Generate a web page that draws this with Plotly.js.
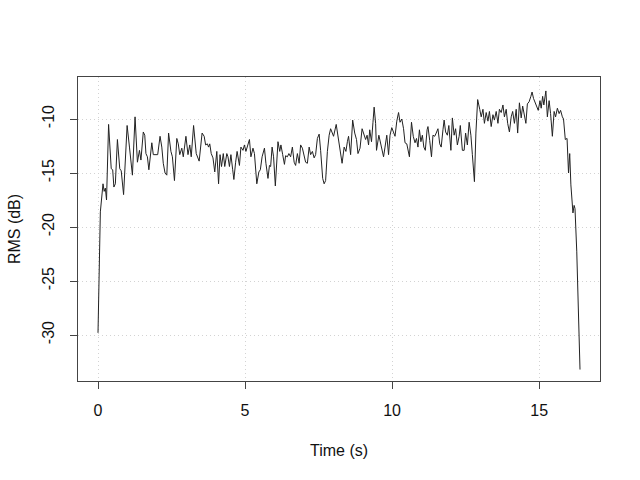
<!DOCTYPE html>
<html>
<head>
<meta charset="utf-8">
<script src="https://cdn.plot.ly/plotly-3.0.1.min.js"></script>
<style>html,body{margin:0;padding:0;background:#fff}#plot{width:640px;height:480px}</style>
</head>
<body>
<div id="plot"></div>
<script>
var timeS = [0.00,0.08,0.17,0.21,0.25,0.29,0.36,0.45,0.50,0.54,0.59,0.66,0.74,0.79,0.87,0.99,1.07,1.12,1.17,1.26,1.34,1.41,1.46,1.54,1.59,1.63,1.68,1.73,1.83,1.88,1.93,2.03,2.11,2.17,2.22,2.28,2.34,2.40,2.48,2.53,2.60,2.68,2.73,2.78,2.85,2.90,2.99,3.06,3.12,3.17,3.25,3.34,3.44,3.54,3.61,3.66,3.72,3.76,3.80,3.85,3.91,3.97,4.04,4.10,4.15,4.20,4.26,4.31,4.38,4.42,4.47,4.52,4.58,4.62,4.68,4.73,4.81,4.86,4.93,4.98,5.03,5.09,5.15,5.20,5.27,5.32,5.40,5.47,5.52,5.58,5.66,5.71,5.78,5.83,5.87,5.92,5.97,6.03,6.12,6.18,6.22,6.28,6.34,6.38,6.44,6.49,6.55,6.61,6.67,6.72,6.78,6.84,6.89,6.95,7.01,7.06,7.12,7.18,7.23,7.29,7.35,7.40,7.46,7.52,7.57,7.64,7.69,7.74,7.80,7.86,7.91,7.97,8.01,8.10,8.18,8.25,8.30,8.37,8.43,8.48,8.52,8.59,8.66,8.73,8.79,8.84,8.91,8.98,9.05,9.10,9.15,9.20,9.24,9.30,9.35,9.39,9.44,9.47,9.55,9.60,9.65,9.71,9.76,9.82,9.88,9.93,9.99,10.05,10.10,10.16,10.22,10.27,10.33,10.39,10.44,10.50,10.56,10.59,10.66,10.72,10.78,10.83,10.88,10.93,10.98,11.03,11.08,11.13,11.19,11.22,11.28,11.34,11.39,11.45,11.50,11.56,11.62,11.67,11.73,11.77,11.82,11.88,11.93,12.00,12.05,12.11,12.16,12.22,12.28,12.32,12.39,12.45,12.50,12.56,12.62,12.68,12.73,12.80,12.85,12.91,12.98,13.03,13.09,13.14,13.20,13.26,13.31,13.37,13.43,13.48,13.54,13.60,13.65,13.71,13.77,13.82,13.88,13.93,13.99,14.05,14.10,14.16,14.22,14.27,14.33,14.39,14.44,14.50,14.55,14.60,14.66,14.72,14.76,14.81,14.86,14.92,14.97,15.03,15.07,15.12,15.16,15.23,15.28,15.34,15.39,15.45,15.51,15.56,15.62,15.68,15.73,15.79,15.83,15.89,15.95,16.00,16.04,16.08,16.15,16.19,16.22,16.28,16.34,16.39];
var rmsDb = [-29.8,-18.6,-16.0,-16.7,-16.4,-17.5,-10.5,-14.6,-14.7,-16.3,-16.0,-11.9,-14.6,-14.8,-17.0,-10.6,-12.6,-13.8,-15.2,-9.8,-14.0,-12.9,-13.8,-11.2,-11.5,-13.2,-13.5,-14.7,-12.2,-13.3,-13.3,-13.3,-11.6,-12.6,-14.1,-15.0,-15.2,-11.3,-13.0,-13.5,-15.7,-11.8,-12.3,-13.3,-12.7,-13.5,-11.6,-13.3,-12.4,-13.5,-10.6,-13.2,-13.9,-11.3,-11.6,-12.4,-12.3,-12.6,-12.3,-13.2,-13.6,-14.9,-13.0,-16.0,-13.3,-14.4,-13.2,-14.4,-13.2,-13.5,-14.4,-13.3,-14.7,-15.6,-14.0,-13.0,-14.3,-12.6,-12.9,-12.4,-13.0,-12.3,-11.9,-13.5,-12.7,-13.2,-16.0,-14.9,-14.7,-13.5,-12.7,-14.1,-15.5,-14.3,-14.4,-12.6,-13.5,-16.2,-12.1,-13.0,-12.4,-13.3,-14.2,-13.4,-13.5,-13.2,-13.5,-12.6,-14.0,-14.3,-13.2,-14.1,-12.4,-12.7,-13.5,-14.0,-14.1,-12.6,-13.3,-13.0,-13.6,-13.3,-11.8,-11.4,-12.9,-15.5,-16.0,-15.7,-13.0,-11.5,-10.9,-11.3,-11.6,-10.5,-12.1,-13.5,-14.1,-12.6,-13.0,-12.1,-11.6,-13.3,-10.1,-11.3,-11.9,-13.2,-12.7,-10.9,-11.5,-11.9,-11.5,-12.4,-11.0,-12.1,-10.3,-8.9,-10.4,-12.9,-11.5,-12.2,-12.9,-13.5,-12.6,-11.5,-13.3,-11.5,-10.8,-11.2,-11.6,-10.2,-9.4,-10.3,-10.0,-10.9,-12.2,-12.3,-13.0,-13.5,-10.3,-11.6,-12.2,-11.8,-12.6,-11.0,-12.1,-11.5,-12.6,-12.9,-11.0,-10.7,-12.0,-13.5,-11.5,-11.6,-11.3,-10.9,-12.3,-12.6,-11.0,-10.1,-11.2,-11.5,-10.6,-12.9,-9.9,-11.5,-10.9,-12.4,-11.6,-10.6,-12.9,-12.9,-11.3,-12.4,-10.3,-11.5,-13.3,-15.8,-11.3,-8.2,-9.1,-9.8,-9.1,-10.4,-9.4,-10.2,-9.3,-10.7,-9.6,-10.1,-9.3,-10.4,-9.1,-9.4,-8.7,-9.8,-9.1,-10.4,-11.2,-9.8,-9.3,-10.4,-9.1,-11.3,-8.5,-9.9,-8.8,-9.8,-10.4,-8.6,-8.4,-7.9,-7.5,-8.1,-8.4,-8.9,-9.2,-8.3,-9.0,-7.9,-8.7,-7.4,-9.8,-8.3,-9.5,-11.6,-9.3,-9.8,-9.0,-9.5,-9.2,-9.8,-10.0,-11.9,-11.8,-15.0,-13.2,-16.1,-18.7,-18.0,-18.3,-22.3,-28.5,-33.2];
var xTicks = [0, 5, 10, 15];
var yTicks = [-10, -15, -20, -25, -30];
var xLabel = 'Time (s)';
var yLabel = 'RMS (dB)';

var font = {family: 'Liberation Sans, Arial, sans-serif', size: 16, color: '#111'};
var trace = {x: timeS, y: rmsDb, type: 'scatter', mode: 'lines',
  line: {color: '#222', width: 1}, hoverinfo: 'x+y'};
var layout = {
  width: 640, height: 480,
  margin: {l: 78, r: 40, t: 77, b: 99},
  paper_bgcolor: '#fff', plot_bgcolor: '#fff',
  showlegend: false,
  font: font,
  xaxis: {
    range: [-0.68, 17.07], tickvals: xTicks, ticktext: xTicks.map(String),
    showgrid: true, gridcolor: '#d3d3d3', griddash: '1px,3px', gridwidth: 1,
    zeroline: false, showline: true, mirror: true, linecolor: '#444', linewidth: 1,
    ticks: 'outside', ticklen: 7, tickcolor: '#444', tickwidth: 1,
    ticklabelstandoff: 8,
    title: {text: xLabel, font: font, standoff: 26},
    automargin: false
  },
  yaxis: {
    range: [-34.26, -6.11], tickvals: yTicks, ticktext: yTicks.map(String),
    tickangle: -90,
    showgrid: true, gridcolor: '#d3d3d3', griddash: '1px,3px', gridwidth: 1,
    zeroline: false, showline: true, mirror: true, linecolor: '#444', linewidth: 1,
    ticks: 'outside', ticklen: 7, tickcolor: '#444', tickwidth: 1,
    ticklabelstandoff: 10,
    title: {text: yLabel, font: font, standoff: 14},
    automargin: false
  }
};
Plotly.newPlot('plot', [trace], layout, {displayModeBar: false, staticPlot: true});
</script>
</body>
</html>
